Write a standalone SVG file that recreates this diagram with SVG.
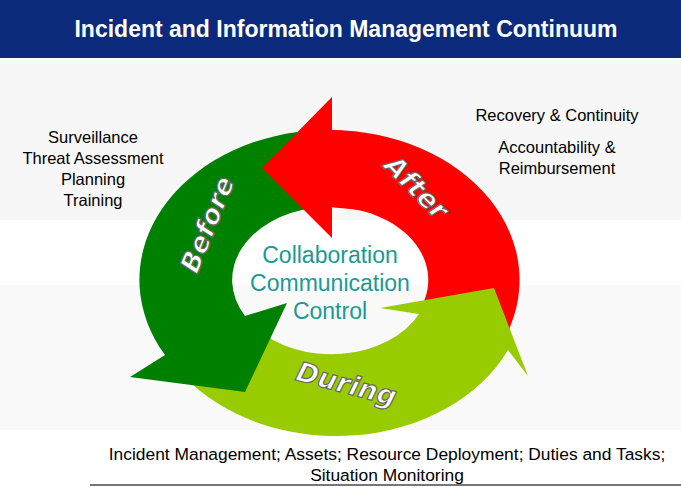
<svg xmlns="http://www.w3.org/2000/svg" width="681" height="487" viewBox="0 0 681 487">
<style>
.t{font-family:"Liberation Sans",Arial,sans-serif;font-size:16.5px;fill:#000;text-anchor:middle}
.b{font-size:17.4px}
.c{font-family:"Liberation Sans",Arial,sans-serif;font-size:23px;fill:#1a9a96;text-anchor:middle}
.l{font-family:"DejaVu Sans","Liberation Sans",sans-serif;font-size:27px;font-weight:bold;font-style:italic;fill:#fff;stroke:#666;stroke-width:1.2;text-anchor:middle}
</style>
<rect width="681" height="487" fill="#fff"/>
<rect x="0" y="60" width="681" height="160" fill="#f7f7f7"/>
<rect x="0" y="285" width="681" height="145" fill="#f9f9f9"/>
<rect x="90" y="430" width="591" height="55" fill="#fff"/>
<line x1="90" y1="485" x2="681" y2="485" stroke="#777" stroke-width="2"/>
<g id="title"><rect x="0" y="0" width="681" height="58" fill="#0b2a7c"/>
<text x="346" y="37" font-family="Liberation Sans,Arial,sans-serif" font-size="23" font-weight="bold" fill="#fff" text-anchor="middle">Incident and Information Management Continuum</text></g>
<g id="connectors">
<g id="after-arrow"><path d="M330,130 A190 150 0 0 1 502,343 L419,311 A98 73 0 0 0 330,207 Z" fill="#ff0000"/></g>
<g id="during-arrow"><path d="M184,376 A190 150 0 0 0 508,350 L528,376 L494,288 L380,308 L419,314 A98 73 0 0 1 255,327 Z" fill="#99cc00"/></g>
<g id="before-arrow"><path d="M297,132 A190 150 0 0 0 165,355 L130,377 L245,392 L287,303 L245,316 A98 73 0 0 1 313,208 Z" fill="#008000"/></g>
<g id="after-head"><path d="M332,97 L262,168 L332,238 Z M330,130 L360,132 L360,210 L330,207 Z" fill="#ff0000"/></g>
</g>
<g id="labels">
<text class="l" transform="translate(216,228) rotate(-68)">Before</text>
<text class="l" transform="translate(410,194) rotate(45)">After</text>
<text class="l" transform="translate(344,393) rotate(15)">During</text>
</g>
<g id="center"><text class="c" x="330" y="263">Collaboration</text><text class="c" x="330" y="291">Communication</text><text class="c" x="330" y="319">Control</text></g>
<g id="before-text"><text class="t" x="93" y="143">Surveillance</text><text class="t" x="93" y="164">Threat Assessment</text><text class="t" x="93" y="185">Planning</text><text class="t" x="93" y="206">Training</text></g>
<g id="after-text"><text class="t" x="557" y="121">Recovery &amp; Continuity</text><text class="t" x="557" y="153">Accountability &amp;</text><text class="t" x="557" y="174">Reimbursement</text></g>
<g id="during-text"><text class="t b" x="387" y="460">Incident Management; Assets; Resource Deployment; Duties and Tasks;</text><text class="t b" x="387" y="481">Situation Monitoring</text></g>
</svg>
